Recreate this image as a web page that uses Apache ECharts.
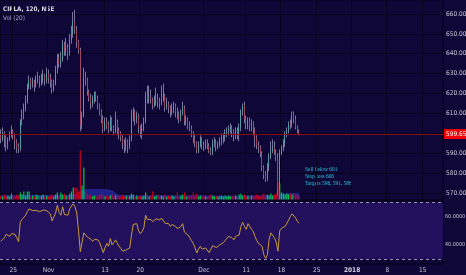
<!DOCTYPE html>
<html><head><meta charset="utf-8">
<script src="https://cdn.jsdelivr.net/npm/echarts@6/dist/echarts.min.js"></script>
<style>html,body{margin:0;padding:0;background:#0f0737;overflow:hidden}#c{width:466px;height:275px}</style>
</head><body><div id="c"></div>
<script>
// ---- data (CIPLA, 120 min bars, NSE) ----
const opens=[599,597,600,598,594,597,599,601,599,596,
593,592,606,610,613,616,623,627,625,626,
624,627,628,626,627,629,627,630,628,626,
622,625,632,638,635,637,645,641,643,640,
647,650,656,652,646,642,604,609,628,627,
621,618,615,617,620,618,614,611,607,602,
606,604,602,607,603,601,606,602,600,598,
595,594,596,594,597,608,611,607,609,603,
601,603,606,619,617,618,617,614,616,617,
616,615,617,619,613,615,613,611,612,614,
611,609,607,610,613,606,607,604,603,600,
597,595,591,594,597,594,593,595,594,591,
590,595,596,593,594,596,597,598,600,601,
602,603,601,599,601,600,603,611,614,607,
604,606,604,605,602,598,594,593,590,583,
579,577,583,588,591,593,590,588,572,590,
593,595,600,601,605,604,609,607,603,601];
const closes=[597,600,598,594,597,599,601,599,596,593,
592,606,610,613,616,623,627,625,626,624,
627,628,626,627,629,627,630,628,626,622,
625,632,638,635,637,645,641,643,640,647,
650,656,652,646,642,604,609,628,627,621,
618,615,617,620,618,614,611,607,602,606,
604,602,607,603,601,606,602,600,598,595,
594,596,594,597,608,611,607,609,603,601,
603,606,619,617,618,617,614,616,617,616,
615,617,619,613,615,613,611,612,614,611,
609,607,610,613,606,607,604,603,600,597,
595,591,594,597,594,593,595,594,591,590,
595,596,593,594,596,597,598,600,601,602,
603,601,599,601,600,603,611,614,607,604,
606,604,605,602,598,594,593,590,583,579,
577,583,588,591,593,590,588,572,590,593,
595,600,601,605,604,609,607,603,601,599.65];
const highs=[602,603,601,599,598,601,604,602,600,597,
595,607,612,615,619,625,629,628,628,627,
629,631,629,630,632,630,633,632,630,627,
627,634,640,640,641,647,646,648,645,650,
654,661,662,654,647,643,611,633,631,628,
622,620,619,621,621,619,615,612,609,608,
608,606,609,608,604,611,607,603,601,599,
597,598,597,599,612,613,612,611,610,604,
605,608,621,624,624,622,618,619,623,620,
618,624,625,620,618,616,614,615,616,615,
613,611,612,616,614,609,608,606,604,601,
599,596,596,599,598,596,597,597,595,593,
597,598,597,596,598,600,600,602,603,604,
605,604,602,603,603,605,612,615,616,609,
608,608,607,606,603,599,596,594,591,584,
581,585,590,596,597,596,592,590,592,594,
597,601,603,606,607,611,611,609,604,602];
const lows=[595,596,593,591,592,596,598,597,592,590,
590,591,604,607,611,615,622,622,623,621,
623,625,623,624,625,624,625,625,623,620,
621,624,630,633,633,636,639,639,637,639,
645,648,650,643,640,601,602,608,624,619,
616,612,613,615,616,612,609,605,600,601,
602,600,601,601,599,600,599,597,596,592,
590,591,590,592,596,606,604,605,600,598,
597,601,605,615,615,615,612,613,614,613,
612,614,616,611,612,610,608,609,610,608,
607,605,606,609,604,604,602,601,598,595,
593,590,590,593,592,591,592,592,590,589,
589,593,591,592,593,594,595,596,598,599,
600,598,596,597,597,596,601,609,605,602,
602,601,601,599,593,592,590,588,581,577,
575.5,576,581,587,590,589,586,569,571,589,
591,593,598,600,602,603,605,602,600,599];
// volume in units of 100k shares
const volumes=[4,3,5,3,4,3,6,4,3,5,4,
7,5,8,4,8,8,3,4,3,5,
4,3,4,5,3,4,3,4,5,3,
5,7,4,7,5,6,4,3,6,8,
12,12,12,8,49,14,32,8,6,4,
5,3,4,3,4,5,6,4,3,4,
3,4,5,3,4,3,4,3,5,3,
4,3,4,6,5,3,4,3,4,3,
4,7,5,3,4,8,3,4,5,3,
4,3,5,3,4,3,4,3,4,7,
3,4,5,7,3,4,3,4,7,4,
6,3,4,3,4,3,3,4,5,4,
3,4,3,3,4,3,4,3,4,3,
4,3,4,3,5,6,4,5,3,4,
3,4,3,4,5,4,3,5,6,4,
5,4,6,4,5,6,17,16,7,6,
5,6,5,6,5,6,4,5,4];
const volumeMA=[4.3,4.3,4.3,4.2,4.2,4.2,4.3,4.3,4.3,4.4,4.4,
4.5,4.5,4.6,4.6,4.6,4.7,4.6,4.6,4.5,4.5,
4.5,4.5,4.5,4.5,4.4,4.4,4.3,4.3,4.3,4.3,
4.3,4.4,4.4,4.5,4.5,4.6,4.6,4.6,4.6,4.8,
5.2,5.6,6,6.2,8.4,8.9,10.3,10.5,10.6,10.6,
10.6,10.5,10.5,10.4,10.4,10.4,10.5,10.5,10.4,10.4,
10,9.6,9.2,9,6.8,6.3,4.9,4.7,4.6,4.5,
4.4,4.3,4.2,4.2,4.2,4.1,4.1,4,4,4,
4,4.1,4.1,4.1,4.1,4.3,4.3,4.3,4.3,4.3,
4.2,4.2,4.2,4.2,4.2,4.1,4.1,4.1,4.1,4.2,
4.1,4.1,4.1,4.2,4.1,4.1,4,4.1,4.2,4.2,
4.3,4.2,4.2,4.1,4.1,4,4,4,4,4,
3.9,3.9,3.8,3.8,3.8,3.8,3.8,3.8,3.8,3.7,
3.7,3.7,3.7,3.7,3.8,3.9,3.9,4,4,4,
4,4,4,4.1,4.1,4.1,4.1,4.2,4.3,4.3,
4.4,4.4,4.5,4.5,4.6,4.7,5.3,5.9,6.1,6.2,
6.3,6.4,6.4,6.5,6.5,6.6,6.6,6.7,6.7];
const rsi=[42.5,43.5,45,47.5,47,46,48,49.4,47.5,45,
42.3,56.5,58,59.5,61,63.5,65.5,64.5,64.2,63.5,
64.5,64.7,63.5,64,64.7,63.8,64.2,63,62,57,
56,62.5,68,63,61,67,61.5,62,61,65.5,
67.5,69,67,62.5,50,35.2,36,48.5,49,45.5,
45,44,42.5,44,44.7,43.5,41.5,38,34.5,38,
41,39,44.5,40,39.5,43.5,41,39,37.3,35.5,
35.5,36.5,36.2,37.8,47,54.5,53.5,55,50,48,
49.5,52,61,58,58.5,58,56.5,57.5,58.5,58,
57.5,59,59.5,55.3,56.5,55,53,54.5,55,53,
51.5,50.8,53,55,49,48.5,47,45,43,41,
38,34.3,37,39,37,36.5,37.8,37,34.5,33.5,
39.5,39.5,38,38.5,40,40.5,41.5,43,44.5,46,
47,45,43.5,46,46,47,53,56,53,51,
55,53,51,49.4,45.9,43,41,40.5,39,33,
30.5,33,44,48.5,49.4,45,42,35.5,50,51.7,
51.8,53,54,57.5,60,62,61.5,59,56.5,55.3];
const priceTicks=[570,580,590,600,610,620,630,640,650,660];
const rsiTicks=[40,60];
const rsiBands=[30,70];
const tickDates=['2017-10-25','2017-11-01','2017-11-13','2017-11-20','2017-12-01','2017-12-11','2017-12-18','2017-12-25','2018-01-01','2018-01-08','2018-01-15'];
const tickTexts=['25','Nov','13','20','Dec','11','18','25','2018','8','15'];
const noteLines=['Sell below 601','Stop loss 606','Targets 596, 591, 586'];

// ---- time slots: 4 bars per trading day, chart starts at Oct 23 11:15 ----
const barTimes=['09:15','11:15','13:15','15:15'];
const slotCount=251;
const categories=[];
(function(){
  const d=new Date(Date.UTC(2017,9,23));let first=true;
  const p=n=>String(n).padStart(2,'0');
  while(categories.length<slotCount){
    const wd=d.getUTCDay();
    if(wd>0&&wd<6){
      const ds=d.getUTCFullYear()+'-'+p(d.getUTCMonth()+1)+'-'+p(d.getUTCDate());
      for(let k=0;k<4;k++){ if(first&&k===0)continue; categories.push(ds+' '+barTimes[k]); }
      first=false;
    }
    d.setUTCDate(d.getUTCDate()+1);
  }
  categories.length=slotCount;
})();
const tickMap={};tickDates.forEach((d,i)=>{tickMap[d+' 09:15']=tickTexts[i];});
const isTick=(i,v)=>tickMap[v]!==undefined;

const BG='#0f0737',GRID='#06031a',UP='#17e0b2',DOWN='#d80010',WICK='#77749a';
const FONT="'Liberation Sans Narrow','DejaVu Sans Condensed','Liberation Sans',sans-serif";
const lastClose=closes[closes.length-1];

const wickData=opens.map((o,i)=>[o,closes[i],lows[i],highs[i]]);
const bodyData=opens.map((o,i)=>[o,closes[i],Math.min(o,closes[i]),Math.max(o,closes[i])]);
const volData=volumes.map((v,i)=>({value:v,itemStyle:{color:closes[i]>=opens[i]?'#00c853':'#c8001e'}}));

const L=0,R=23;
const mainTop=0,mainH=200,pMin=566.5,pMax=667;
const pScale=mainH/(pMax-pMin);
const rTop=201,rH=63,rMin=26.46,rMax=71.06;
const rScale=rH/(rMax-rMin);
const gb={left:L,right:R,outerBoundsMode:'none',containLabel:false};
const axisText={color:'#c9c7d6',fontSize:6.5,fontFamily:FONT};

const chart=echarts.init(document.getElementById('c'),null,{renderer:'canvas'});
chart.setOption({
  animation:false,
  backgroundColor:BG,
  grid:[
    Object.assign({top:mainTop,height:mainH,show:true,borderColor:GRID,borderWidth:1,backgroundColor:'transparent'},gb),
    Object.assign({top:mainTop+(pMax-priceTicks[priceTicks.length-1])*pScale,height:(priceTicks[priceTicks.length-1]-priceTicks[0])*pScale},gb),
    Object.assign({top:150,height:49.5},gb),
    Object.assign({top:rTop,height:rH,show:true,borderColor:GRID,borderWidth:1,backgroundColor:'transparent'},gb),
    Object.assign({top:rTop+(rMax-rsiTicks[1])*rScale,height:(rsiTicks[1]-rsiTicks[0])*rScale},gb)
  ],
  xAxis:[
    {gridIndex:0,type:'category',data:categories,boundaryGap:true,axisLine:{show:false},axisTick:{show:false},axisLabel:{show:false},
      splitLine:{show:true,interval:isTick,lineStyle:{color:GRID,width:1}}},
    {gridIndex:1,type:'value',min:0,max:1,show:false},
    {gridIndex:2,type:'category',data:categories,show:false},
    {gridIndex:3,type:'category',data:categories,boundaryGap:true,axisLine:{show:false},axisTick:{show:false},
      splitLine:{show:true,interval:isTick,lineStyle:{color:GRID,width:1}},
      axisLabel:Object.assign({show:true,interval:isTick,margin:3,
        formatter:v=>{const t=tickMap[v]||'';return /^\d{4}$/.test(t)?'{b|'+t+'}':t;},
        rich:{b:{fontWeight:'bold',fontSize:6.5,fontFamily:FONT,color:'#d6d4e2'}}},axisText)},
    {gridIndex:4,type:'value',min:0,max:1,show:false}
  ],
  yAxis:[
    {gridIndex:0,type:'value',min:pMin,max:pMax,show:false,splitLine:{show:false}},
    {gridIndex:1,type:'value',min:priceTicks[0],max:priceTicks[priceTicks.length-1],interval:10,position:'right',
      axisLine:{show:false},axisTick:{show:false},
      axisLabel:Object.assign({margin:3,formatter:v=>v.toFixed(2)},axisText),
      splitLine:{show:true,lineStyle:{color:GRID,width:1}}},
    {gridIndex:2,type:'value',min:0,max:49.5,show:false,splitLine:{show:false}},
    {gridIndex:3,type:'value',min:rMin,max:rMax,show:false,splitLine:{show:false}},
    {gridIndex:4,type:'value',min:rsiTicks[0],max:rsiTicks[1],interval:20,position:'right',
      axisLine:{show:false},axisTick:{show:false},
      axisLabel:{margin:2,color:'#c9c7d6',fontSize:5.4,fontFamily:FONT,formatter:v=>v.toFixed(4)},
      splitLine:{show:true,lineStyle:{color:GRID,width:1}}}
  ],
  series:[
    {type:'bar',xAxisIndex:2,yAxisIndex:2,data:volData,barWidth:1.2,silent:true,z:1},
    {type:'line',xAxisIndex:2,yAxisIndex:2,data:volumeMA,symbol:'none',silent:true,z:1,
      lineStyle:{width:0},areaStyle:{color:'rgba(48,62,230,0.5)',opacity:1}},
    {type:'candlestick',xAxisIndex:0,yAxisIndex:0,data:wickData,barWidth:0.4,silent:true,clip:false,z:2,
      itemStyle:{color:WICK,color0:WICK,borderColor:WICK,borderColor0:WICK,borderWidth:1}},
    {type:'candlestick',xAxisIndex:0,yAxisIndex:0,data:bodyData,barWidth:1.3,silent:true,clip:false,z:3,
      itemStyle:{color:UP,color0:DOWN,borderColor:UP,borderColor0:DOWN,borderWidth:0.4},
      markLine:{silent:true,symbol:['none','none'],animation:false,
        lineStyle:{color:'#8a0b22',width:1,type:'solid'},
        label:{show:true,position:'end',distance:1,formatter:lastClose.toFixed(2),color:'#ffffff',
          backgroundColor:'#f00000',padding:[2,2,1,2],fontSize:6.5,fontFamily:FONT},
        data:[{yAxis:lastClose}]}},
    {type:'line',xAxisIndex:3,yAxisIndex:3,data:rsi,symbol:'none',silent:true,z:3,
      lineStyle:{color:'#c69a3a',width:1},
      markArea:{silent:true,itemStyle:{color:'#22105c'},data:[[{yAxis:rsiBands[0]},{yAxis:rsiBands[1]}]]},
      markLine:{silent:true,symbol:['none','none'],label:{show:false},
        lineStyle:{color:'#9893b6',width:1,type:[3,3]},
        data:[{yAxis:rsiBands[0]},{yAxis:rsiBands[1]}]}}
  ],
  graphic:[
    {type:'text',x:3,y:6,silent:true,style:{text:'CIPLA, 120, NSE',fill:'#dcdbe6',font:"bold 6.3px "+FONT}},
    {type:'text',x:3,y:15.5,silent:true,style:{text:'Vol (20)',fill:'#a9a6c0',font:"6.3px "+FONT}},
    {type:'text',x:3,y:206,silent:true,style:{text:'RSI (14, close)',fill:'#b3b0c8',font:"6.3px "+FONT}},
    {type:'text',x:305,y:165.5,silent:true,style:{text:noteLines.join('\n'),fill:'#27c6dc',font:"5.4px 'Liberation Serif',serif",lineHeight:7.2}}
  ]
});
</script></body></html>
